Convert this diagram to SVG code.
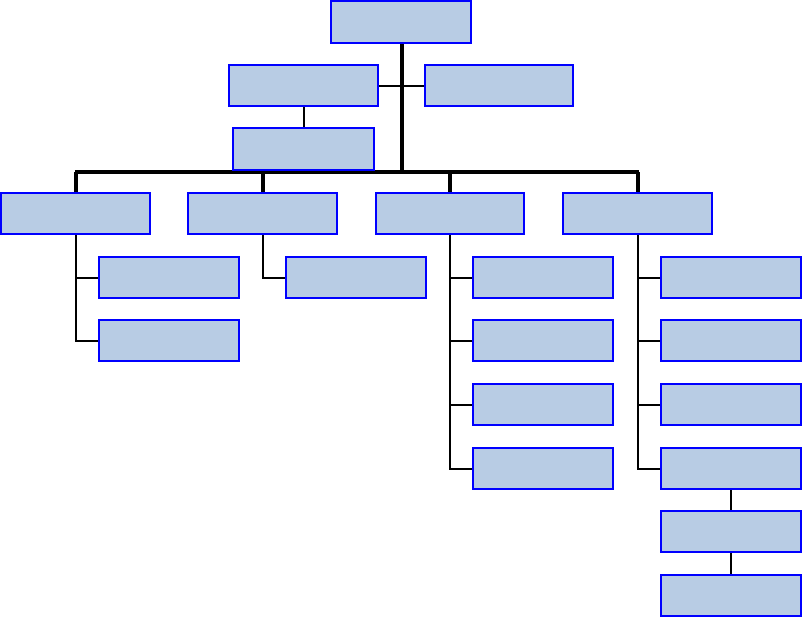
<svg xmlns="http://www.w3.org/2000/svg" width="803" height="619" viewBox="0 0 803 619">
<style>.b{fill:#b8cce4;stroke:#0000ff;stroke-width:2}.t{stroke:#000;stroke-width:2;fill:none}.k{stroke:#000;stroke-width:4;fill:none}</style>
<rect width="803" height="619" fill="#fff"/>
<g id="connectors">
<path class="k" d="M402 43V172M75 172H639M76 172V193M263 172V193M450 172V193M638 172V193"/>
<path class="t" d="M378 86H425M304 106V128"/>
<path class="t" d="M76 234V341H99M76 278H99M263 234V278H286M450 234V469H473M450 278H473M450 341H473M450 405H473M638 234V469H661M638 278H661M638 341H661M638 405H661M731 489V511M731 552V575"/>
</g>
<g id="n0"><rect class="b" x="331" y="1" width="140" height="42"/></g>
<g id="n1"><rect class="b" x="229" y="65" width="149" height="41"/></g>
<g id="n2"><rect class="b" x="425" y="65" width="148" height="41"/></g>
<g id="n3"><rect class="b" x="233" y="128" width="141" height="42"/></g>
<g id="a"><rect class="b" x="1" y="193" width="149" height="41"/></g>
<g id="b"><rect class="b" x="188" y="193" width="149" height="41"/></g>
<g id="c"><rect class="b" x="376" y="193" width="148" height="41"/></g>
<g id="d"><rect class="b" x="563" y="193" width="149" height="41"/></g>
<g id="a1"><rect class="b" x="99" y="257" width="140" height="41"/></g>
<g id="a2"><rect class="b" x="99" y="320" width="140" height="41"/></g>
<g id="b1"><rect class="b" x="286" y="257" width="140" height="41"/></g>
<g id="c1"><rect class="b" x="473" y="257" width="140" height="41"/></g>
<g id="c2"><rect class="b" x="473" y="320" width="140" height="41"/></g>
<g id="c3"><rect class="b" x="473" y="384" width="140" height="41"/></g>
<g id="c4"><rect class="b" x="473" y="448" width="140" height="41"/></g>
<g id="d1"><rect class="b" x="661" y="257" width="140" height="41"/></g>
<g id="d2"><rect class="b" x="661" y="320" width="140" height="41"/></g>
<g id="d3"><rect class="b" x="661" y="384" width="140" height="41"/></g>
<g id="d4"><rect class="b" x="661" y="448" width="140" height="41"/></g>
<g id="d5"><rect class="b" x="661" y="511" width="140" height="41"/></g>
<g id="d6"><rect class="b" x="661" y="575" width="140" height="41"/></g>
</svg>
